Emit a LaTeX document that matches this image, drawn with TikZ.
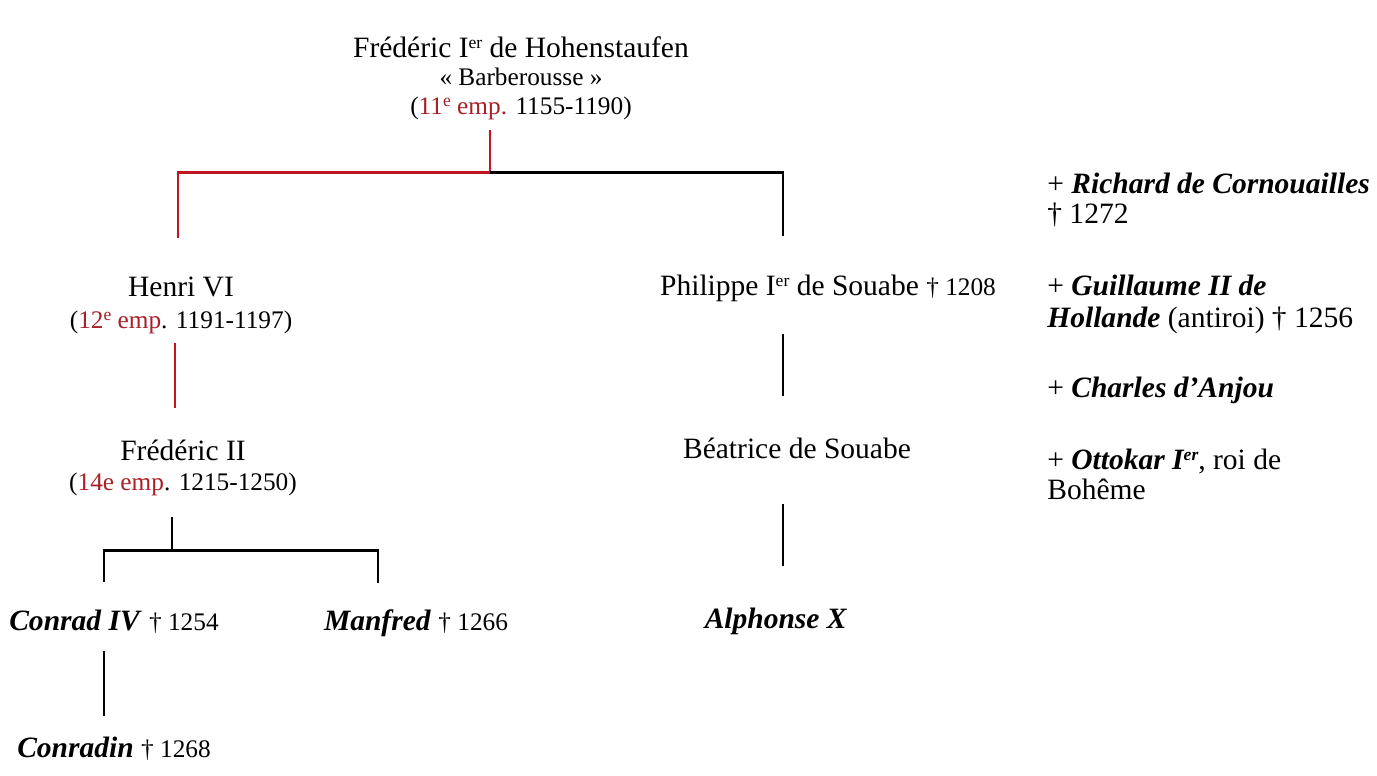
\documentclass[tikz,border=0pt]{standalone}
\usepackage{fontspec}
\setmainfont{Liberation Serif}
\usetikzlibrary{positioning}
\definecolor{empred}{RGB}{168,32,40}
\definecolor{linered}{RGB}{192,22,32}
\newcommand{\emp}[1]{\textcolor{empred}{#1}}
\newcommand{\minor}[1]{{\fontsize{14.4}{17}\selectfont #1}}
\newcommand{\bi}[1]{\textbf{\textit{#1}}}
\newcommand{\ordsup}[1]{\raisebox{0.3em}{\fontsize{10}{10}\selectfont #1}}

\begin{document}
\begin{tikzpicture}[x=0.02cm,y=-0.02cm,
		person/.style={anchor=base,inner sep=0pt,align=center,font=\fontsize{16.8}{17}\selectfont},
		spouse/.style={anchor=base west,inner sep=0pt,align=left,font=\fontsize{16.8}{17}\selectfont},
		line/.style={line width=1.7pt},
		redline/.style={line,draw=linered}]
				\useasboundingbox (0,0) rectangle (1377,775);
				% The founder (ID=fred1)
				\node[person] (fred1) at (521,114) {Frédéric I\ordsup{er} de Hohenstaufen\\[-1pt]
								\minor{« Barberousse »}\\[-1pt]
								\minor{(\emp{11\ordsup{e} emp.} 1155-1190)}};
				% Now his two sons
				\node[person] (henri) at (181,328) {Henri VI\\[1pt]
								\minor{(\emp{12\ordsup{e} emp}. 1191-1197)}};
				\node[person] (phil) at (828,295) {Philippe I\ordsup{er} de Souabe \minor{† 1208}};
				% The 2nd generation
				\node[person] (fred2) at (183,490) {Frédéric II\\
								\minor{(\emp{14e emp}. 1215-1250)}};
				\node[person] (beat) at (797,458) {Béatrice de Souabe};
				% The 3rd and 4th generation
				\node[person] (conrad) at (114,630) {\bi{Conrad IV} \minor{† 1254}};
				\node[person] (manfred) at (416,630) {\bi{Manfred} \minor{† 1266}};
				\node[person] (alph) at (776,628) {\bi{Alphonse X}};
				\node[person] (conradin) at (114,757) {\bi{Conradin} \minor{† 1268}};
				% The kings of the Interregnum on the right
				\node[spouse] (richard) at (1047,223) {+ \bi{Richard de Cornouailles}\\ † 1272};
				\node[spouse] (guill) at (1047,327) {+ \bi{Guillaume II de}\\[1pt] \bi{Hollande} (antiroi) † 1256};
				\node[spouse] (charles) at (1047,397) {+ \bi{Charles d’Anjou}};
				\node[spouse] (otto) at (1047,499) {+ \bi{Ottokar I\ordsup{er}}, roi de\\ Bohême};
				% Forks and columns of the tree
				\coordinate (fork1) at (490,172);
				\coordinate (fork2) at (172,550);
				\coordinate (colA) at (178,0);
				\coordinate (colB) at (783,0);
				\coordinate (colH) at (175,0);
				\coordinate (colC) at (104,0);
				\coordinate (colM) at (378,0);
				% Draw the edges between the generations
				\draw[redline,shorten <=0.2cm] (fred1.south -| fork1) -- (fork1);
				\draw[redline,shorten >=0.77cm] (fork1) -| (henri.north -| colA);
				\draw[line,shorten >=0.76cm] (fork1) -| (phil.north -| colB);
				\draw[redline,shorten <=0.18cm,shorten >=0.63cm] (henri.south -| colH) -- (fred2.north -| colH);
				\draw[line,shorten <=0.64cm,shorten >=0.82cm] (phil.south -| colB) -- (beat.north -| colB);
				\draw[line,shorten <=0.9cm,shorten >=0.82cm] (beat.south -| colB) -- (alph.north -| colB);
				\draw[line,shorten <=0.42cm] (fred2.south -| fork2) -- (fork2);
				\draw[line,shorten >=0.55cm] (fork2) -| (conrad.north -| colC);
				\draw[line,shorten >=0.52cm] (fork2) -| (manfred.north -| colM);
				\draw[line,shorten <=0.36cm,shorten >=0.4cm] (conrad.south -| colC) -- (conradin.north -| colC);
\end{tikzpicture}
\end{document}
